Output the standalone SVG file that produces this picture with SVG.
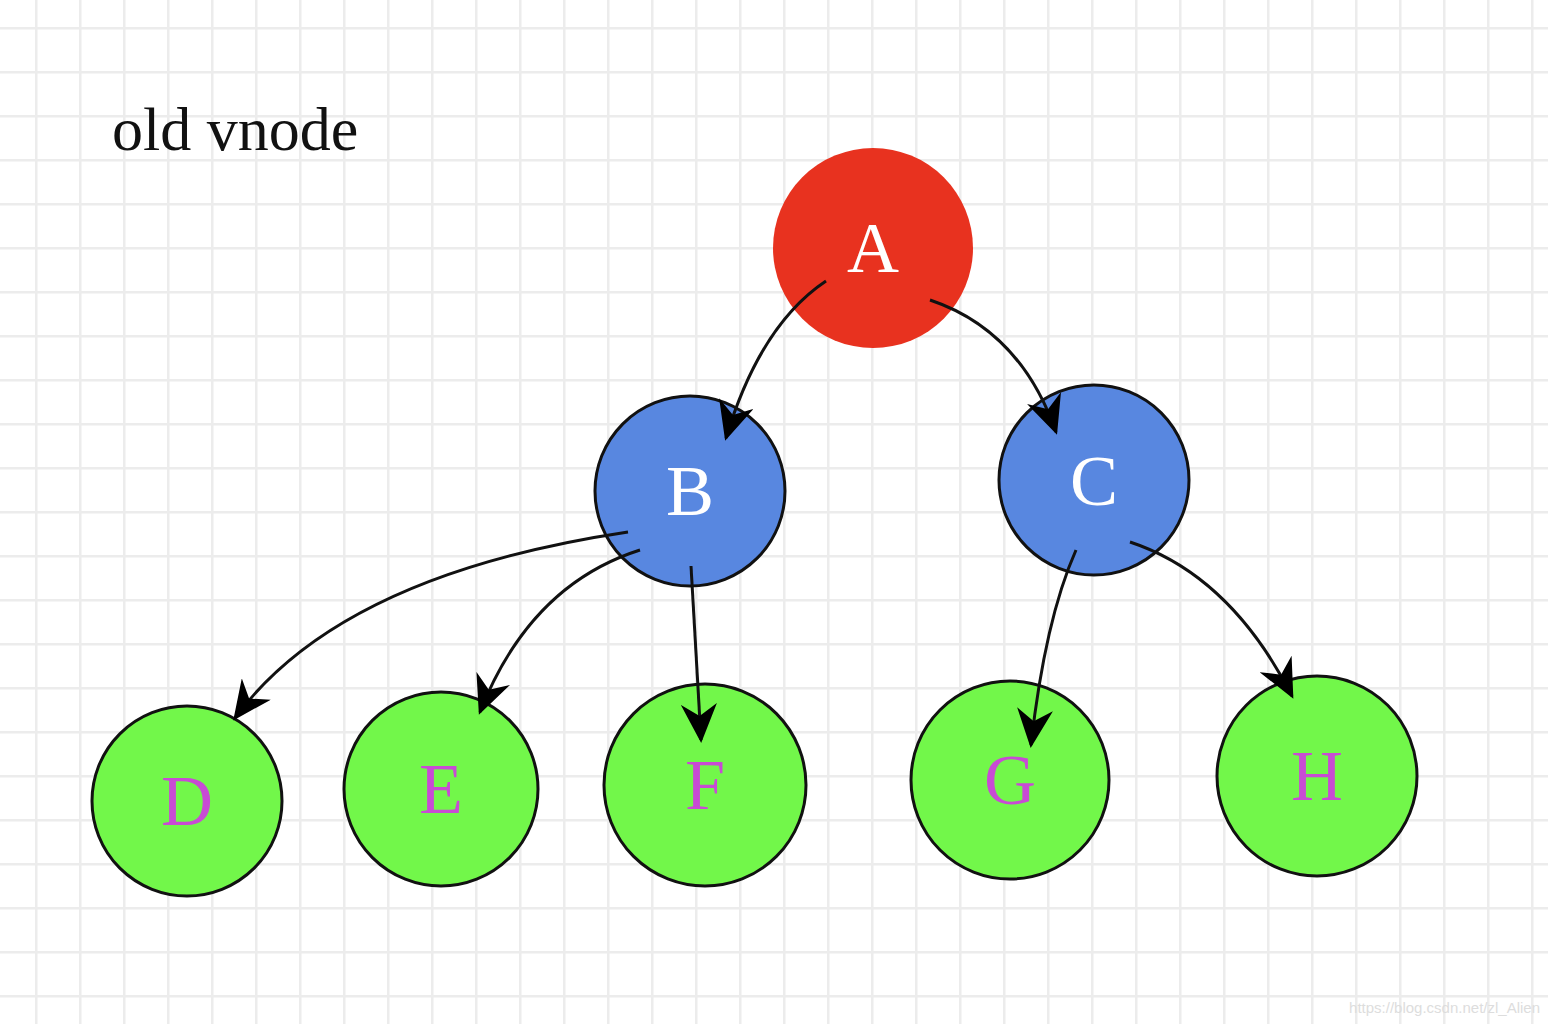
<svg xmlns="http://www.w3.org/2000/svg" width="1548" height="1024" viewBox="0 0 1548 1024">
<defs>
<pattern id="grid" x="-9" y="-17" width="44" height="44" patternUnits="userSpaceOnUse">
<path d="M0 0H44M0 0V44" stroke="#ececec" stroke-width="5" fill="none"/>
</pattern>
<marker id="ah" markerWidth="14" markerHeight="12" refX="12" refY="6" orient="auto" markerUnits="strokeWidth">
<path d="M0 0L13 6L0 12L4 6Z" fill="#000"/>
</marker>
<style>
.n circle{stroke:#111;stroke-width:3}
.r{fill:#e8321f}.b{fill:#5887e0}.g{fill:#72f74a}
.t{font-family:"Liberation Serif",serif;font-size:72px;text-anchor:middle}
.w{fill:#fff}.p{fill:#c84bd4}
.c path{fill:none;stroke:#111;stroke-width:3;marker-end:url(#ah)}
</style>
</defs>
<rect width="1548" height="1024" fill="#fff"/>
<rect width="1548" height="1024" fill="url(#grid)"/>
<text x="112" y="150" font-family="Liberation Serif,serif" font-size="62" fill="#111">old vnode</text>
<g id="A" class="n"><circle cx="873" cy="248" r="100" class="r" style="stroke:none"/><text class="t w" x="873" y="272">A</text></g>
<g id="B" class="n"><circle cx="690" cy="491" r="95" class="b"/><text class="t w" x="690" y="515">B</text></g>
<g id="C" class="n"><circle cx="1094" cy="480" r="95" class="b"/><text class="t w" x="1094" y="505">C</text></g>
<g id="D" class="n"><circle cx="187" cy="801" r="95" class="g"/><text class="t p" x="187" y="825">D</text></g>
<g id="E" class="n"><circle cx="441" cy="789" r="97" class="g"/><text class="t p" x="441" y="813">E</text></g>
<g id="F" class="n"><circle cx="705" cy="785" r="101" class="g"/><text class="t p" x="705" y="809">F</text></g>
<g id="G" class="n"><circle cx="1010" cy="780" r="99" class="g"/><text class="t p" x="1010" y="804">G</text></g>
<g id="H" class="n"><circle cx="1317" cy="776" r="100" class="g"/><text class="t p" x="1317" y="800">H</text></g>
<g id="connectors" class="c">
<path d="M826 281Q760 325 726 438"/>
<path d="M930 300Q1020 330 1056 432"/>
<path d="M628 532Q340 575 235 718"/>
<path d="M640 550Q530 585 480 712"/>
<path d="M691 566L701 740"/>
<path d="M1076 550Q1045 620 1031 745"/>
<path d="M1130 542Q1230 575 1292 696"/>
</g>
<text x="1540" y="1013" text-anchor="end" font-family="Liberation Sans,sans-serif" font-size="15" fill="#ddd">https://blog.csdn.net/zl_Alien</text>
</svg>
